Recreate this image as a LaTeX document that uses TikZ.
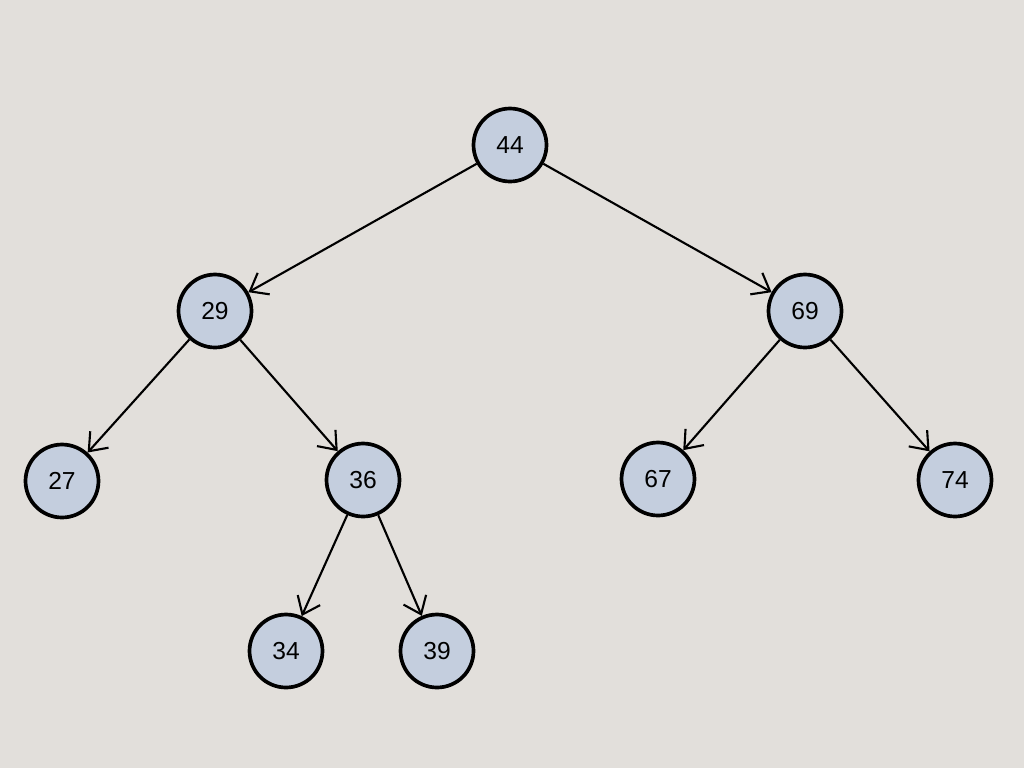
\documentclass[tikz,border=0pt]{standalone}
\usepackage{fontspec}
\setmainfont{Liberation Sans}
\usetikzlibrary{arrows.meta}
\definecolor{bg}{RGB}{226,223,219}
\definecolor{nodefill}{RGB}{196,206,222}
\begin{document}
\begin{tikzpicture}[x=0.02cm,y=-0.02cm,
  tn/.style={circle,draw=black,line width=2.1pt,fill=nodefill,minimum size=1.46cm,inner sep=0pt,font=\fontsize{14}{16}\selectfont},
  edge/.style={line width=1.2pt,-{Straight Barb[length=9pt,width=14pt,line width=1.2pt]}}]
\fill[bg] (0,0) rectangle (1024,768);
\useasboundingbox (0,0) rectangle (1024,768);
\node[tn] (n44) at (510,145) {44};
\node[tn] (n29) at (215,311) {29};
\node[tn] (n69) at (805,311) {69};
\node[tn] (n27) at (62,481) {27};
\node[tn] (n36) at (363,480) {36};
\node[tn] (n67) at (658,479) {67};
\node[tn] (n74) at (955,480) {74};
\node[tn] (n34) at (286,651) {34};
\node[tn] (n39) at (437,651) {39};
\draw[edge] (n44) -- (n29);
\draw[edge] (n44) -- (n69);
\draw[edge] (n29) -- (n27);
\draw[edge] (n29) -- (n36);
\draw[edge] (n69) -- (n67);
\draw[edge] (n69) -- (n74);
\draw[edge] (n36) -- (n34);
\draw[edge] (n36) -- (n39);
\end{tikzpicture}
\end{document}
